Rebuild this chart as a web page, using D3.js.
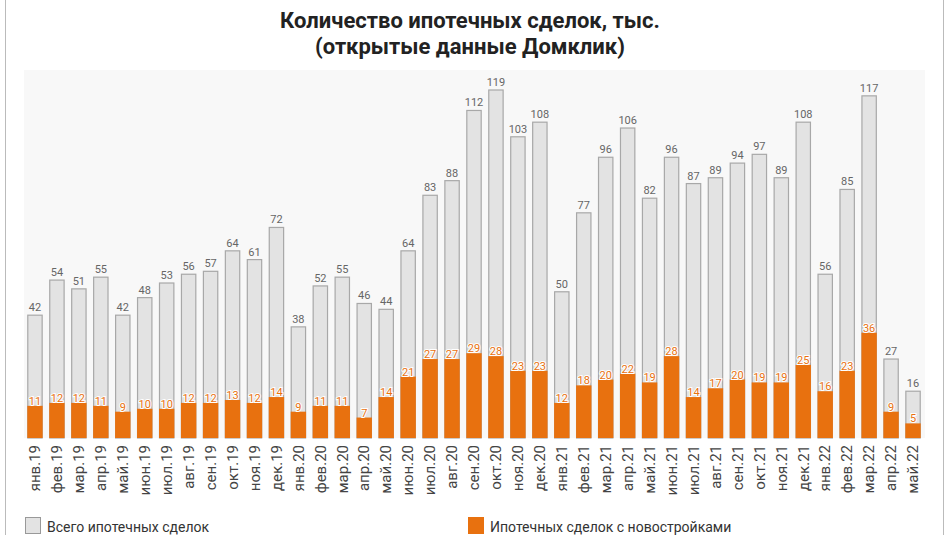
<!DOCTYPE html>
<html><head><meta charset="utf-8">
<script src="https://cdn.jsdelivr.net/npm/d3@7"></script>
<style>body{margin:0;background:#fff;font-family:Roboto,"Open Sans",sans-serif}</style>
</head><body><div id="chart"></div>
<script>
var months = ["янв","фев","мар","апр","май","июн","июл","авг","сен","окт","ноя","дек"];
var years = ["19","20","21","22"];
var categories = [];
years.forEach(function(y, i) {
	var n = (y === "22") ? 5 : 12;
	for (var m = 0; m < n; m++) categories.push(months[m] + "." + y);
});
var totalDeals = [42,54,51,55,42,48,53,56,57,64,61,72, 38,52,55,46,44,64,83,88,112,119,103,108, 50,77,96,106,82,96,87,89,94,97,89,108, 56,85,117,27,16];
var newBuildDeals = [11,12,12,11,9,10,10,12,12,13,12,14, 9,11,11,7,14,21,27,27,29,28,23,23, 12,18,20,22,19,28,14,17,20,19,19,25, 16,23,36,9,5];

var WIDTH = 952, HEIGHT = 535;
var BASE = 438;
var ORANGE = "#e8710f";

var svg = d3.select("#chart").append("svg").attr("width", WIDTH).attr("height", HEIGHT);

// frame lines
svg.append("line").attr("x1", 5.5).attr("x2", 5.5).attr("y1", 0).attr("y2", HEIGHT).attr("stroke", "#bbb");
svg.append("line").attr("x1", 943.5).attr("x2", 943.5).attr("y1", 0).attr("y2", HEIGHT).attr("stroke", "#bbb");
svg.append("rect").attr("x", 24).attr("y", 70).attr("width", 901).attr("height", BASE - 70).attr("fill", "#f8f8f8");

svg.append("text").attr("x", 470).attr("y", 28).attr("text-anchor", "middle")
	.style("font-size", "22px").style("font-weight", "bold").attr("fill", "#222")
	.text("Количество ипотечных сделок, тыс.");
svg.append("text").attr("x", 470).attr("y", 54).attr("text-anchor", "middle")
	.style("font-size", "22px").style("font-weight", "bold").attr("fill", "#222")
	.text("(открытые данные Домклик)");

var x = d3.scaleBand().domain(categories).range([24, 924]).paddingInner(0.3).paddingOuter(0.15);
var y = d3.scaleLinear().domain([0, 119]).range([BASE, 90]);

var g = svg.append("g");
g.selectAll("rect.total").data(categories).enter().append("rect")
	.attr("x", d => x(d) + 0.5).attr("width", x.bandwidth() - 1)
	.attr("y", (d, i) => y(totalDeals[i])).attr("height", (d, i) => BASE - y(totalDeals[i]))
	.attr("fill", "#e3e3e3").attr("stroke", "#a8a8a8").attr("stroke-width", 1.2);
g.selectAll("rect.new").data(categories).enter().append("rect")
	.attr("x", d => x(d)).attr("width", x.bandwidth())
	.attr("y", (d, i) => y(newBuildDeals[i])).attr("height", (d, i) => BASE - y(newBuildDeals[i]))
	.attr("fill", ORANGE);

g.selectAll("text.total").data(categories).enter().append("text")
	.attr("x", d => x(d) + x.bandwidth() / 2).attr("y", (d, i) => y(totalDeals[i]) - 4)
	.attr("text-anchor", "middle").style("font-size", "11px").attr("fill", "#666")
	.text((d, i) => totalDeals[i]);
g.selectAll("text.new").data(categories).enter().append("text")
	.attr("x", d => x(d) + x.bandwidth() / 2).attr("y", (d, i) => y(newBuildDeals[i]) - 1)
	.attr("text-anchor", "middle").style("font-size", "11px").attr("fill", ORANGE)
	.attr("stroke", "#fff").attr("stroke-width", 2).attr("paint-order", "stroke")
	.text((d, i) => newBuildDeals[i]);

var axis = svg.append("g").attr("transform", "translate(0," + BASE + ")")
	.call(d3.axisBottom(x).tickSize(0).tickPadding(0));
axis.select(".domain").remove();
axis.selectAll("text").attr("transform", "rotate(-90)").attr("text-anchor", "end")
	.attr("x", -7).attr("y", 0).attr("dy", "0.35em")
	.style("font-size", "15px").style("font-family", "Roboto, sans-serif").attr("fill", "#444");

// legend
svg.append("rect").attr("x", 25.5).attr("y", 517.5).attr("width", 15).attr("height", 16)
	.attr("fill", "#e3e3e3").attr("stroke", "#999");
svg.append("text").attr("x", 47).attr("y", 532).style("font-size", "14px").attr("fill", "#333").text("Всего ипотечных сделок");
svg.append("rect").attr("x", 468).attr("y", 517).attr("width", 16).attr("height", 17).attr("fill", ORANGE);
svg.append("text").attr("x", 490).attr("y", 532).style("font-size", "14px").attr("fill", "#333").text("Ипотечных сделок с новостройками");
</script></body></html>
